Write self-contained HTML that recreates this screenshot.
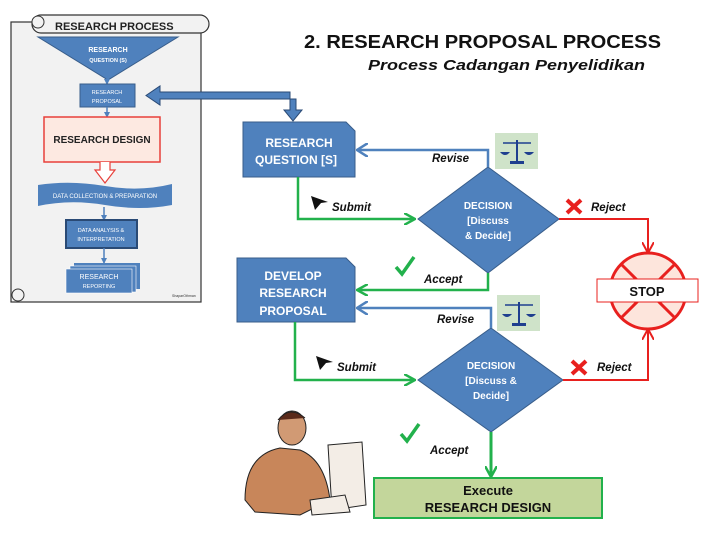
<!DOCTYPE html>
<html><head><meta charset="utf-8"><style>
html,body{margin:0;padding:0;background:#fff;width:728px;height:546px;overflow:hidden}
svg{display:block;font-family:"Liberation Sans",sans-serif}
</style></head><body>
<svg width="728" height="546" viewBox="0 0 728 546" xmlns="http://www.w3.org/2000/svg">
<defs>
<marker id="ab" markerWidth="12" markerHeight="14" refX="10" refY="7" orient="auto" markerUnits="userSpaceOnUse"><path d="M0,0 L11,7 L0,14" fill="none" stroke="#4f81bd" stroke-width="2.5"/></marker>
<marker id="ag" markerWidth="12" markerHeight="12" refX="10" refY="6" orient="auto" markerUnits="userSpaceOnUse"><path d="M0,0 L11,6 L0,12" fill="none" stroke="#22b14c" stroke-width="2.5"/></marker>
<marker id="ar" markerWidth="12" markerHeight="12" refX="10" refY="6" orient="auto" markerUnits="userSpaceOnUse"><path d="M0,0 L11,6 L0,12" fill="none" stroke="#e8201e" stroke-width="2"/></marker>
<marker id="as" markerWidth="6" markerHeight="6" refX="5" refY="3" orient="auto" markerUnits="userSpaceOnUse"><path d="M0,0 L6,3 L0,6z" fill="#4f81bd"/></marker>
</defs>

<!-- left scroll panel -->
<rect x="11" y="22" width="190" height="280" fill="#f2f2f2" stroke="#333" stroke-width="1.2"/>
<rect x="32" y="15" width="177" height="18" rx="9" fill="#f2f2f2" stroke="#333" stroke-width="1.2"/>
<circle cx="38" cy="22" r="6" fill="#f2f2f2" stroke="#333"/>
<circle cx="18" cy="295" r="6" fill="#f2f2f2" stroke="#333"/>
<text x="55" y="30" font-size="11" font-weight="bold" fill="#222">RESEARCH PROCESS</text>
<path d="M38,37 L178,37 L108,80 Z" fill="#4f81bd" stroke="#385d8a"/>
<text x="108" y="52" font-size="7" fill="#fff" text-anchor="middle" font-weight="bold">RESEARCH</text>
<text x="108" y="62" font-size="5.5" fill="#fff" text-anchor="middle" font-weight="bold">QUESTION (S)</text>
<line x1="107" y1="76" x2="107" y2="84" stroke="#4f81bd" stroke-width="1.5" marker-end="url(#as)"/>
<rect x="80" y="84" width="55" height="23" fill="#4f81bd" stroke="#385d8a"/>
<text x="107" y="94" font-size="5.5" fill="#fff" text-anchor="middle">RESEARCH</text>
<text x="107" y="103" font-size="5.5" fill="#fff" text-anchor="middle">PROPOSAL</text>
<line x1="107" y1="107" x2="107" y2="117" stroke="#4f81bd" stroke-width="1.5" marker-end="url(#as)"/>
<rect x="44" y="117" width="116" height="45" fill="#fde9e1" stroke="#e8403a" stroke-width="1.5"/>
<text x="102" y="143" font-size="10" font-weight="bold" fill="#222" text-anchor="middle">RESEARCH DESIGN</text>
<path d="M100,162 L100,170 L95,170 L105,183 L115,170 L110,170 L110,162" fill="#fff" stroke="#e8403a" stroke-width="1.2"/>
<path d="M38,185 Q70,180 105,186 Q140,192 172,184 L172,205 Q140,211 105,205 Q70,199 38,206 Z" fill="#4f81bd"/>
<text x="105" y="198" font-size="6" fill="#fff" text-anchor="middle">DATA COLLECTION &amp; PREPARATION</text>
<line x1="104" y1="207" x2="104" y2="220" stroke="#4f81bd" stroke-width="1.5" marker-end="url(#as)"/>
<rect x="66" y="220" width="71" height="28" fill="#4f81bd" stroke="#2a4a75" stroke-width="2"/>
<text x="101" y="232" font-size="5.5" fill="#fff" text-anchor="middle">DATA ANALYSIS &amp;</text>
<text x="101" y="241" font-size="5.5" fill="#fff" text-anchor="middle">INTERPRETATION</text>
<line x1="104" y1="248" x2="104" y2="263" stroke="#4f81bd" stroke-width="1.5" marker-end="url(#as)"/>
<rect x="74" y="263" width="66" height="26" fill="#4f81bd"/>
<rect x="70" y="266" width="66" height="26" fill="#4f81bd" stroke="#fff" stroke-width="0.6"/>
<rect x="66" y="269" width="66" height="24" fill="#4f81bd" stroke="#fff" stroke-width="0.6"/>
<text x="99" y="279" font-size="7" fill="#fff" text-anchor="middle">RESEARCH</text>
<text x="99" y="288" font-size="5.5" fill="#fff" text-anchor="middle">REPORTING</text>
<text x="172" y="297" font-size="3.5" fill="#333">ShaparOthman</text>

<!-- big blue connector arrow -->
<path d="M160,92 L290,92 L290,110 L284,110 L293,121 L302,110 L296,110 L296,99 L160,99 L160,105 L146,95.5 L160,86 Z" fill="#4f81bd" stroke="#2a4a75" stroke-width="1"/>

<!-- titles -->
<text x="304" y="48" font-size="18" font-weight="bold" fill="#111" textLength="357" lengthAdjust="spacingAndGlyphs">2. RESEARCH PROPOSAL PROCESS</text>
<text x="368" y="70" font-size="15" font-weight="bold" font-style="italic" fill="#111" textLength="277" lengthAdjust="spacingAndGlyphs">Process Cadangan Penyelidikan</text>

<!-- research question box -->
<path d="M243,122 L346,122 L355,131 L355,177 L243,177 Z" fill="#4f81bd" stroke="#385d8a"/>
<text x="299" y="147" font-size="12" font-weight="bold" fill="#fff" text-anchor="middle">RESEARCH</text>
<text x="296" y="164" font-size="12" font-weight="bold" fill="#fff" text-anchor="middle">QUESTION [S]</text>

<!-- develop proposal -->
<path d="M237,258 L346,258 L355,267 L355,322 L237,322 Z" fill="#4f81bd" stroke="#385d8a"/>
<text x="293" y="280" font-size="12" font-weight="bold" fill="#fff" text-anchor="middle">DEVELOP</text>
<text x="293" y="297" font-size="12" font-weight="bold" fill="#fff" text-anchor="middle">RESEARCH</text>
<text x="293" y="315" font-size="12" font-weight="bold" fill="#fff" text-anchor="middle">PROPOSAL</text>

<!-- diamonds -->
<path d="M488,167 L559,219 L488,273 L418,219 Z" fill="#4f81bd" stroke="#385d8a"/>
<text x="488" y="209" font-size="10" font-weight="bold" fill="#fff" text-anchor="middle">DECISION</text>
<text x="488" y="224" font-size="10" font-weight="bold" fill="#fff" text-anchor="middle">[Discuss</text>
<text x="488" y="239" font-size="10" font-weight="bold" fill="#fff" text-anchor="middle">&amp; Decide]</text>
<path d="M491,328 L563,380 L491,432 L418,380 Z" fill="#4f81bd" stroke="#385d8a"/>
<text x="491" y="369" font-size="10" font-weight="bold" fill="#fff" text-anchor="middle">DECISION</text>
<text x="491" y="384" font-size="10" font-weight="bold" fill="#fff" text-anchor="middle">[Discuss &amp;</text>
<text x="491" y="399" font-size="10" font-weight="bold" fill="#fff" text-anchor="middle">Decide]</text>

<!-- connectors -->
<polyline points="488,167 488,150 358,150" fill="none" stroke="#4f81bd" stroke-width="2.5" marker-end="url(#ab)"/>
<polyline points="298,177 298,219 414,219" fill="none" stroke="#22b14c" stroke-width="2.5" marker-end="url(#ag)"/>
<polyline points="559,219 648,219 648,252" fill="none" stroke="#e8201e" stroke-width="2" marker-end="url(#ar)"/>
<polyline points="488,273 488,290 358,290" fill="none" stroke="#22b14c" stroke-width="2.5" marker-end="url(#ag)"/>
<polyline points="491,328 491,308 358,308" fill="none" stroke="#4f81bd" stroke-width="2.5" marker-end="url(#ab)"/>
<polyline points="295,322 295,380 414,380" fill="none" stroke="#22b14c" stroke-width="2.5" marker-end="url(#ag)"/>
<polyline points="563,380 648,380 648,330" fill="none" stroke="#e8201e" stroke-width="2" marker-end="url(#ar)"/>
<polyline points="491,432 491,476" fill="none" stroke="#22b14c" stroke-width="3" marker-end="url(#ag)"/>

<!-- labels -->
<g font-size="11.5" font-weight="bold" font-style="italic" fill="#111">
<text x="432" y="162">Revise</text>
<text x="332" y="211">Submit</text>
<text x="591" y="211">Reject</text>
<text x="424" y="283">Accept</text>
<text x="437" y="323">Revise</text>
<text x="337" y="371">Submit</text>
<text x="597" y="371">Reject</text>
<text x="430" y="454">Accept</text>
</g>
<path d="M311,196 L328,202 L321,203 L315,210 Z" fill="#111"/>
<path d="M316,356 L333,362 L326,363 L320,370 Z" fill="#111"/>
<path d="M396,267 L402,274 L414,257" fill="none" stroke="#22b14c" stroke-width="3.5"/>
<path d="M401,434 L407,441 L419,424" fill="none" stroke="#22b14c" stroke-width="3.5"/>
<g stroke="#e8201e" stroke-width="4"><line x1="567" y1="200" x2="581" y2="213"/><line x1="581" y1="200" x2="567" y2="213"/>
<line x1="572" y1="361" x2="586" y2="374"/><line x1="586" y1="361" x2="572" y2="374"/></g>
<g>
<rect x="495" y="133" width="43" height="36" fill="#cfe3c9"/>
<line x1="517" y1="140" x2="517" y2="162" stroke="#1f3f8f" stroke-width="2"/>
<line x1="503" y1="143" x2="531" y2="143" stroke="#1f3f8f" stroke-width="1.5"/>
<path d="M500,152 Q505,158 510,152 Z M524,152 Q529,158 534,152 Z" fill="#1f3f8f"/>
<rect x="510" y="161" width="14" height="3" fill="#1f3f8f"/>
</g>
<g transform="translate(2,162)">
<rect x="495" y="133" width="43" height="36" fill="#cfe3c9"/>
<line x1="517" y1="140" x2="517" y2="162" stroke="#1f3f8f" stroke-width="2"/>
<line x1="503" y1="143" x2="531" y2="143" stroke="#1f3f8f" stroke-width="1.5"/>
<path d="M500,152 Q505,158 510,152 Z M524,152 Q529,158 534,152 Z" fill="#1f3f8f"/>
<rect x="510" y="161" width="14" height="3" fill="#1f3f8f"/>
</g>

<!-- stop -->
<circle cx="648" cy="291" r="38" fill="#fde5dc" stroke="#e8201e" stroke-width="3"/>
<line x1="621" y1="264" x2="675" y2="318" stroke="#e8201e" stroke-width="3"/>
<line x1="675" y1="264" x2="621" y2="318" stroke="#e8201e" stroke-width="3"/>
<rect x="597" y="279" width="101" height="23" fill="#fff" stroke="#e8201e" stroke-width="1"/>
<text x="647" y="296" font-size="13" font-weight="bold" fill="#111" text-anchor="middle">STOP</text>

<!-- execute -->
<rect x="374" y="478" width="228" height="40" fill="#c3d69b" stroke="#22b14c" stroke-width="2"/>
<text x="488" y="495" font-size="13" font-weight="bold" fill="#111" text-anchor="middle">Execute</text>
<text x="488" y="512" font-size="13" font-weight="bold" fill="#111" text-anchor="middle">RESEARCH DESIGN</text>

<!-- person clipart approximation -->
<g stroke="#222" stroke-width="1">
<path d="M328,445 L362,442 L366,505 L332,510 Z" fill="#f3ede6"/>
<path d="M245,500 Q245,455 280,448 L300,450 Q325,460 330,500 L300,515 L255,512 Z" fill="#c8865a"/>
<ellipse cx="292" cy="428" rx="14" ry="17" fill="#d19a74"/>
<path d="M278,420 Q290,405 305,418" fill="#5a2a1a"/>
<path d="M310,500 L345,495 L350,512 L312,515 Z" fill="#f3ede6"/>
</g>
</svg>
</body></html>
